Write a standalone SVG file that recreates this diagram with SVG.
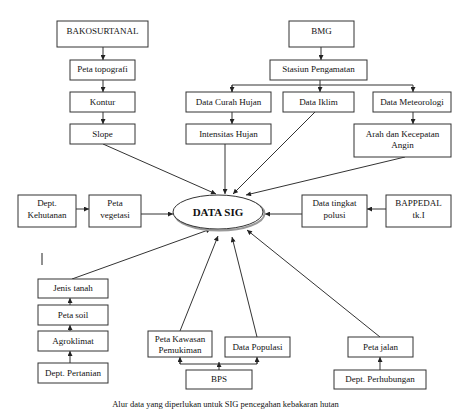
<svg xmlns="http://www.w3.org/2000/svg" width="474" height="420" viewBox="0 0 474 420">
<defs>
<marker id="ah" viewBox="0 0 10 10" refX="10" refY="5" markerWidth="6" markerHeight="5" orient="auto" markerUnits="userSpaceOnUse"><path d="M0,0 L10,5 L0,10 z" fill="#222"/></marker>
</defs>
<style>
rect{fill:#fff;stroke:#333;stroke-width:1}
text{font-family:'Liberation Serif','Times New Roman',serif;font-size:9px;fill:#111;text-anchor:middle}
.c line,.c polyline{stroke:#333;stroke-width:1;fill:none}
.a{marker-end:url(#ah)}
</style>
<rect x="0" y="0" width="474" height="420" style="stroke:none"/>
<g class="c" id="connectors">
<line class="a" x1="103" y1="47" x2="103" y2="60"/>
<line class="a" x1="103" y1="80" x2="103" y2="92"/>
<line class="a" x1="103" y1="112" x2="103" y2="124"/>
<line class="a" x1="321" y1="47" x2="321" y2="60"/>
<line x1="320" y1="80" x2="320" y2="85"/>
<polyline points="232,92 232,85 413,85"/>
<line class="a" x1="232" y1="85" x2="232" y2="92"/>
<line class="a" x1="320" y1="85" x2="320" y2="92"/>
<line class="a" x1="413" y1="85" x2="413" y2="92"/>
<line class="a" x1="232" y1="112" x2="232" y2="124"/>
<line class="a" x1="413" y1="112" x2="413" y2="124"/>
<line class="a" x1="103" y1="144" x2="216" y2="194"/>
<line class="a" x1="225" y1="144" x2="225" y2="194"/>
<line class="a" x1="315" y1="112" x2="233" y2="194"/>
<line class="a" x1="405" y1="157" x2="246" y2="195"/>
<line class="a" x1="76" y1="209" x2="89" y2="209"/>
<line class="a" x1="141" y1="214" x2="173" y2="214"/>
<line class="a" x1="386" y1="209" x2="367" y2="209"/>
<line class="a" x1="302" y1="214" x2="265" y2="214"/>
<line class="a" x1="72" y1="279" x2="211" y2="229"/>
<line class="a" x1="180" y1="331" x2="218" y2="236"/>
<line class="a" x1="257" y1="337" x2="232" y2="237"/>
<line class="a" x1="380" y1="337" x2="247" y2="230"/>
<line class="a" x1="70" y1="305" x2="70" y2="298"/>
<line class="a" x1="70" y1="331" x2="70" y2="325"/>
<line class="a" x1="70" y1="363" x2="70" y2="351"/>
<line class="a" x1="219" y1="370" x2="219" y2="362"/>
<polyline points="180,360 180,364 257,364 257,360"/>
<line class="a" x1="180" y1="364" x2="180" y2="357"/>
<line class="a" x1="257" y1="364" x2="257" y2="357"/>
<line class="a" x1="380" y1="370" x2="380" y2="357"/>
<line x1="42" y1="253" x2="42" y2="265" style="stroke:#222"/>
</g>
<g font-family="Liberation Serif, Times New Roman, serif">
<g id="bakosurtanal"><rect x="57" y="21" width="91" height="26"/><text x="102.5" y="34">BAKOSURTANAL</text></g>
<g id="peta-topografi"><rect x="70" y="60" width="65" height="20"/><text x="102.5" y="72">Peta topografi</text></g>
<g id="kontur"><rect x="70" y="92" width="65" height="20"/><text x="102.5" y="105">Kontur</text></g>
<g id="slope"><rect x="70" y="124" width="65" height="20"/><text x="102.5" y="137">Slope</text></g>
<g id="bmg"><rect x="289" y="21" width="65" height="26"/><text x="321.5" y="34">BMG</text></g>
<g id="stasiun"><rect x="270" y="60" width="97" height="20"/><text x="318.5" y="72">Stasiun Pengamatan</text></g>
<g id="curah-hujan"><rect x="186" y="92" width="85" height="20"/><text x="228.5" y="105">Data Curah Hujan</text></g>
<g id="data-iklim"><rect x="283" y="92" width="71" height="20"/><text x="318.5" y="105">Data Iklim</text></g>
<g id="meteorologi"><rect x="373" y="92" width="78" height="20"/><text x="412" y="105">Data Meteorologi</text></g>
<g id="intensitas"><rect x="186" y="124" width="85" height="20"/><text x="228.5" y="137">Intensitas Hujan</text></g>
<g id="arah-angin"><rect x="354" y="124" width="97" height="33"/><text x="402.5" y="137">Arah dan Kecepatan</text><text x="402.5" y="148">Angin</text></g>
<g id="kehutanan"><rect x="18" y="195" width="58" height="32"/><text x="47" y="206">Dept.</text><text x="47" y="218">Kehutanan</text></g>
<g id="peta-vegetasi"><rect x="89" y="195" width="52" height="32"/><text x="115" y="206">Peta</text><text x="115" y="218">vegetasi</text></g>
<g id="data-sig"><ellipse cx="219.5" cy="213.5" rx="45" ry="17" fill="none" stroke="#999" stroke-width="2"/><ellipse cx="218" cy="212" rx="45" ry="17" fill="#fff" stroke="#333" stroke-width="1"/><text x="218" y="216" style="font-weight:bold;font-size:11px">DATA SIG</text></g>
<g id="polusi"><rect x="302" y="195" width="65" height="32"/><text x="334.5" y="206">Data tingkat</text><text x="334.5" y="218">polusi</text></g>
<g id="bappedal"><rect x="386" y="195" width="65" height="32"/><text x="418.5" y="206">BAPPEDAL</text><text x="418.5" y="218">tk.I</text></g>
<g id="jenis-tanah"><rect x="38" y="279" width="70" height="19"/><text x="73" y="291">Jenis tanah</text></g>
<g id="peta-soil"><rect x="38" y="305" width="70" height="20"/><text x="73" y="318">Peta soil</text></g>
<g id="agroklimat"><rect x="38" y="331" width="70" height="20"/><text x="73" y="344">Agroklimat</text></g>
<g id="pertanian"><rect x="38" y="363" width="70" height="20"/><text x="73" y="376">Dept. Pertanian</text></g>
<g id="pemukiman"><rect x="148" y="331" width="64" height="26"/><text x="180" y="342">Peta Kawasan</text><text x="180" y="353">Pemukiman</text></g>
<g id="populasi"><rect x="225" y="337" width="65" height="20"/><text x="257.5" y="350">Data Populasi</text></g>
<g id="bps"><rect x="186" y="370" width="66" height="19"/><text x="219" y="382">BPS</text></g>
<g id="peta-jalan"><rect x="348" y="337" width="65" height="20"/><text x="380.5" y="350">Peta jalan</text></g>
<g id="perhubungan"><rect x="334" y="370" width="92" height="19"/><text x="380" y="382">Dept. Perhubungan</text></g>
<text x="225.5" y="407" style="font-size:8.5px">Alur data yang diperlukan untuk SIG pencegahan kebakaran hutan</text>
</g>
</svg>
